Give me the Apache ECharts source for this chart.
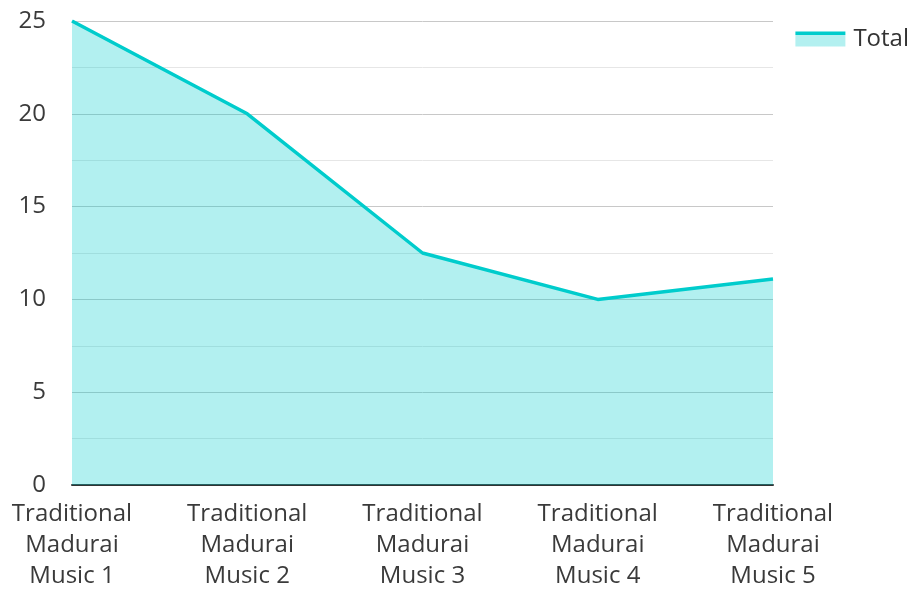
<!DOCTYPE html>
<html>
<head>
<meta charset="utf-8">
<script src="https://cdn.jsdelivr.net/npm/echarts@6/dist/echarts.min.js"></script>
<style>html,body{margin:0;padding:0;background:#fff;}#c{width:915px;height:592px;}</style>
</head>
<body>
<div id="c"></div>
<script>
const categories = ["Traditional\nMadurai\nMusic 1","Traditional\nMadurai\nMusic 2","Traditional\nMadurai\nMusic 3","Traditional\nMadurai\nMusic 4","Traditional\nMadurai\nMusic 5"];
const totalValues = [25, 20, 12.5, 10, 11.1];
const seriesName = "Total";

const chart = echarts.init(document.getElementById('c'));
const font = "'Open Sans', 'Noto Sans', sans-serif";
chart.setOption({
  animation: false,
  textStyle: {fontFamily: font},
  grid: {left: 72, right: 142, top: 21, bottom: 103, containLabel: false},
  legend: {
    right: 1, top: 22, itemWidth: 50, itemHeight: 15, itemGap: 8,
    icon: 'rect',
    textStyle: {fontSize: 24, color: '#333', fontFamily: font, padding: [0, 0, 0, 3]},
    itemStyle: {
      color: {type: 'linear', x: 0, y: 0, x2: 0, y2: 1, colorStops: [
        {offset: 0, color: '#00cccc'}, {offset: 0.24, color: '#00cccc'},
        {offset: 0.24, color: '#b3f0f0'}, {offset: 1, color: '#b3f0f0'}]}
    },
    data: [seriesName]
  },
  xAxis: {
    type: 'category', data: categories, boundaryGap: false,
    axisLine: {lineStyle: {color: '#333', width: 2}},
    axisTick: {show: false},
    axisLabel: {fontSize: 24, color: '#3a3a3a', lineHeight: 31, margin: 14, fontFamily: font, interval: 0},
    splitLine: {show: false}
  },
  yAxis: {
    type: 'value', min: 0, max: 25, interval: 5,
    axisLine: {show: false}, axisTick: {show: false},
    axisLabel: {fontSize: 24, color: '#3a3a3a', margin: 26, fontFamily: font},
    splitLine: {lineStyle: {color: '#c8c8c8', width: 1}},
    minorTick: {show: false, splitNumber: 2},
    minorSplitLine: {show: true, lineStyle: {color: '#e6e6e6', width: 1}}
  },
  series: [{
    name: seriesName, type: 'line', data: totalValues,
    symbol: 'none',
    lineStyle: {color: '#00cccc', width: 3.5},
    itemStyle: {color: '#00cccc'},
    areaStyle: {color: '#00cccc', opacity: 0.3}
  }]
});
</script>
</body>
</html>
